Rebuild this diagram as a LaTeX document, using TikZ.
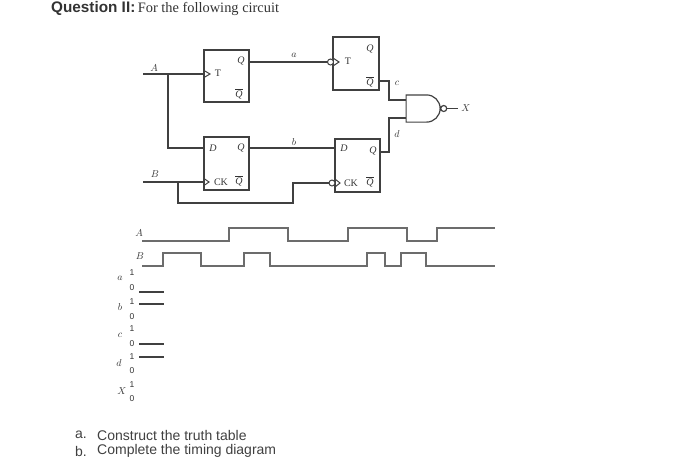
\documentclass[tikz,border=0pt]{standalone}
\usepackage{amsmath}
\usepackage{fontspec}
\usepackage{xcolor}
\setmainfont{Liberation Serif}
\newfontfamily\arialfont{Liberation Sans}
\usetikzlibrary{shapes.gates.logic.US}
\definecolor{wirecol}{gray}{0.25}
\definecolor{labelcol}{gray}{0.2}
\tikzset{
  ffbox/.style={draw=wirecol,line width=1.5pt,minimum width=45,minimum height=52,inner sep=0pt},
  wire/.style={draw=wirecol,line width=1.3pt},
  wave/.style={draw=gray!85!black,line width=1.3pt},
  answer/.style={draw=wirecol,line width=1.3pt},
  bubble/.style={draw=wirecol,line width=1pt,fill=white,circle,minimum size=6,inner sep=0pt},
  pinlabel/.style={text=labelcol,font=\fontsize{10}{11}\selectfont,inner sep=0pt},
  levellabel/.style={text=labelcol,font=\arialfont\fontsize{8.5}{9}\selectfont,inner sep=0pt},
  question/.style={anchor=west,inner sep=0pt,text=black!80},
  item/.style={anchor=west,inner sep=0pt,text=black!75,font=\arialfont\fontsize{14}{15}\selectfont}
}
\begin{document}
\begin{tikzpicture}[x=1pt,y=-1pt]
\useasboundingbox (0,0) rectangle (700,475);

% flip flops
\node[ffbox] (ffa) at (226.5,76) {};
\node[ffbox,minimum height=53] (ffb) at (226.5,163.5) {};
\node[ffbox,minimum width=46,minimum height=53] (ffc) at (356,63.5) {};
\node[ffbox,minimum height=53] (ffd) at (357.5,165.5) {};

% clock triangles
\draw[wirecol,line width=1pt] (204,70.5) -- (210,74) -- (204,77.5);
\draw[wirecol,line width=1pt] (204,178.5) -- (209,182) -- (204,185.5);
\draw[wirecol,line width=1pt] (333,58) -- (339,62) -- (333,66);
\draw[wirecol,line width=1pt] (335,179) -- (340,183) -- (335,187);

\node[pinlabel] (ta) at (218,73) {T};
\node[pinlabel] (qa) at (241,61) {$\mathit{Q}$};
\node[pinlabel] (qna) at (239,94) {$\overline{\mathit{Q}}$};
\node[pinlabel] (db) at (213,148) {$\mathit{D}$};
\node[pinlabel] (qb) at (241,148) {$\mathit{Q}$};
\node[pinlabel] (ckb) at (221,182) {CK};
\node[pinlabel] (qnb) at (239,181) {$\overline{\mathit{Q}}$};
\node[pinlabel] (tc) at (348,61) {T};
\node[pinlabel] (qc) at (370,49) {$\mathit{Q}$};
\node[pinlabel] (qnc) at (370,82) {$\overline{\mathit{Q}}$};
\node[pinlabel] (dd) at (344,148) {$\mathit{D}$};
\node[pinlabel] (qd) at (373,151) {$\mathit{Q}$};
\node[pinlabel] (ckd) at (351,183) {CK};
\node[pinlabel] (qnd) at (370,182) {$\overline{\mathit{Q}}$};

% gate
\node[nand gate US,draw=wirecol,line width=1.2pt,logic gate inputs=nn,minimum width=34,minimum height=26,inner sep=0pt,
  logic gate inverted radius=3pt,anchor=center] (gate) at (422,108.5) {};

% free ends of the wires
\coordinate (inA) at (143,74);
\coordinate (inB) at (143,182);
\coordinate (joinA) at (168,74);
\coordinate (joinB) at (178,182);
\coordinate (ffa-clk) at (204,74);
\coordinate (ffa-q) at (249,62);
\coordinate (ffb-d) at (204,148);
\coordinate (ffb-clk) at (204,182);
\coordinate (ffb-q) at (249,148);
\coordinate (ffc-t) at (327.5,62);
\coordinate (ffc-qn) at (379,81);
\coordinate (ffd-d) at (335,148);
\coordinate (ffd-clk) at (329,183);
\coordinate (ffd-q) at (380,152);
\coordinate (gate-c) at (gate.west |- 400,100);
\coordinate (gate-d) at (gate.west |- 400,118);
\coordinate (outX) at (458,108);

\draw[wire] (inA) -- (ffa-clk);
\draw[wire] (joinA) |- (ffb-d);
\draw[wire] (inB) -- (ffb-clk);
\draw[wire] (joinB) -- (178,203) -- (293,203) -- (293,183) -- (ffd-clk);
\draw[wire] (ffa-q) -- (ffc-t);
\draw[wire] (ffb-q) -- (ffd-d);
\draw[wire] (ffc-qn) -- (389,81) |- (gate-c);
\draw[wire] (ffd-q) -- (389,152) |- (gate-d);
\draw[wire] (gate.output) -- (gate.output -| outX);

\node[bubble] (bubc) at (330.5,62) {};
\node[bubble] (bubd) at (332,183) {};

% wire names
\node[pinlabel] (lA) at (154,68) {$A$};
\node[pinlabel] (lB) at (155,174) {$B$};
\node[pinlabel] (la) at (294,55) {$a$};
\node[pinlabel] (lb) at (294,142) {$b$};
\node[pinlabel] (lc) at (397,83) {$c$};
\node[pinlabel] (ld) at (397,134) {$d$};
\node[pinlabel] (lX) at (466,108) {$X$};

% timing diagram
\coordinate (waveA) at (142,241);
\coordinate (waveB) at (142,266);
\draw[wave] (waveA) -- (229,241) -- (229,228) -- (288,228) -- (288,241) -- (348,241) -- (348,228)
  -- (407,228) -- (407,241) -- (437,241) -- (437,228) -- (495,228);
\draw[wave] (waveB) -- (163,266) -- (163,253) -- (201,253) -- (201,266) -- (244,266) -- (244,253)
  -- (270,253) -- (270,266) -- (367,266) -- (367,253) -- (385,253) -- (385,266) -- (401,266)
  -- (401,253) -- (426,253) -- (426,266) -- (495,266);

\node[pinlabel] (tA) at (139,233) {$A$};
\node[pinlabel] (tB) at (140,256) {$B$};
\node[pinlabel] (ta2) at (120,278) {$a$};
\node[pinlabel] (tb2) at (120,307) {$b$};
\node[pinlabel] (tc2) at (120,335) {$c$};
\node[pinlabel] (td2) at (119,363) {$d$};
\node[pinlabel] (tX) at (122,391) {$X$};

\foreach \nm/\yhi/\ylo in {a/273/288,b/302/317,c/329/344,d/357/371,x/385/399}{
  \node[levellabel] (hi\nm) at (132,\yhi) {1};
  \node[levellabel] (lo\nm) at (132,\ylo) {0};
}

\draw[answer] (139,292) -- (164,292);
\draw[answer] (139,304) -- (164,304);
\draw[answer] (139,344) -- (164,344);
\draw[answer] (139,357) -- (164,357);

% text
\node[question] (title) at (51,9) {{\arialfont\bfseries\fontsize{15.3}{17}\selectfont Question II:} {\fontsize{14.4}{16}\selectfont For the following circuit}};
\node[item] (itema) at (75,435) {a.};
\node[item] (itemat) at (97,435) {Construct the truth table};
\node[item] (itemb) at (75,451) {b.};
\node[item] (itembt) at (97,451) {Complete the timing diagram};
\end{tikzpicture}
\end{document}
